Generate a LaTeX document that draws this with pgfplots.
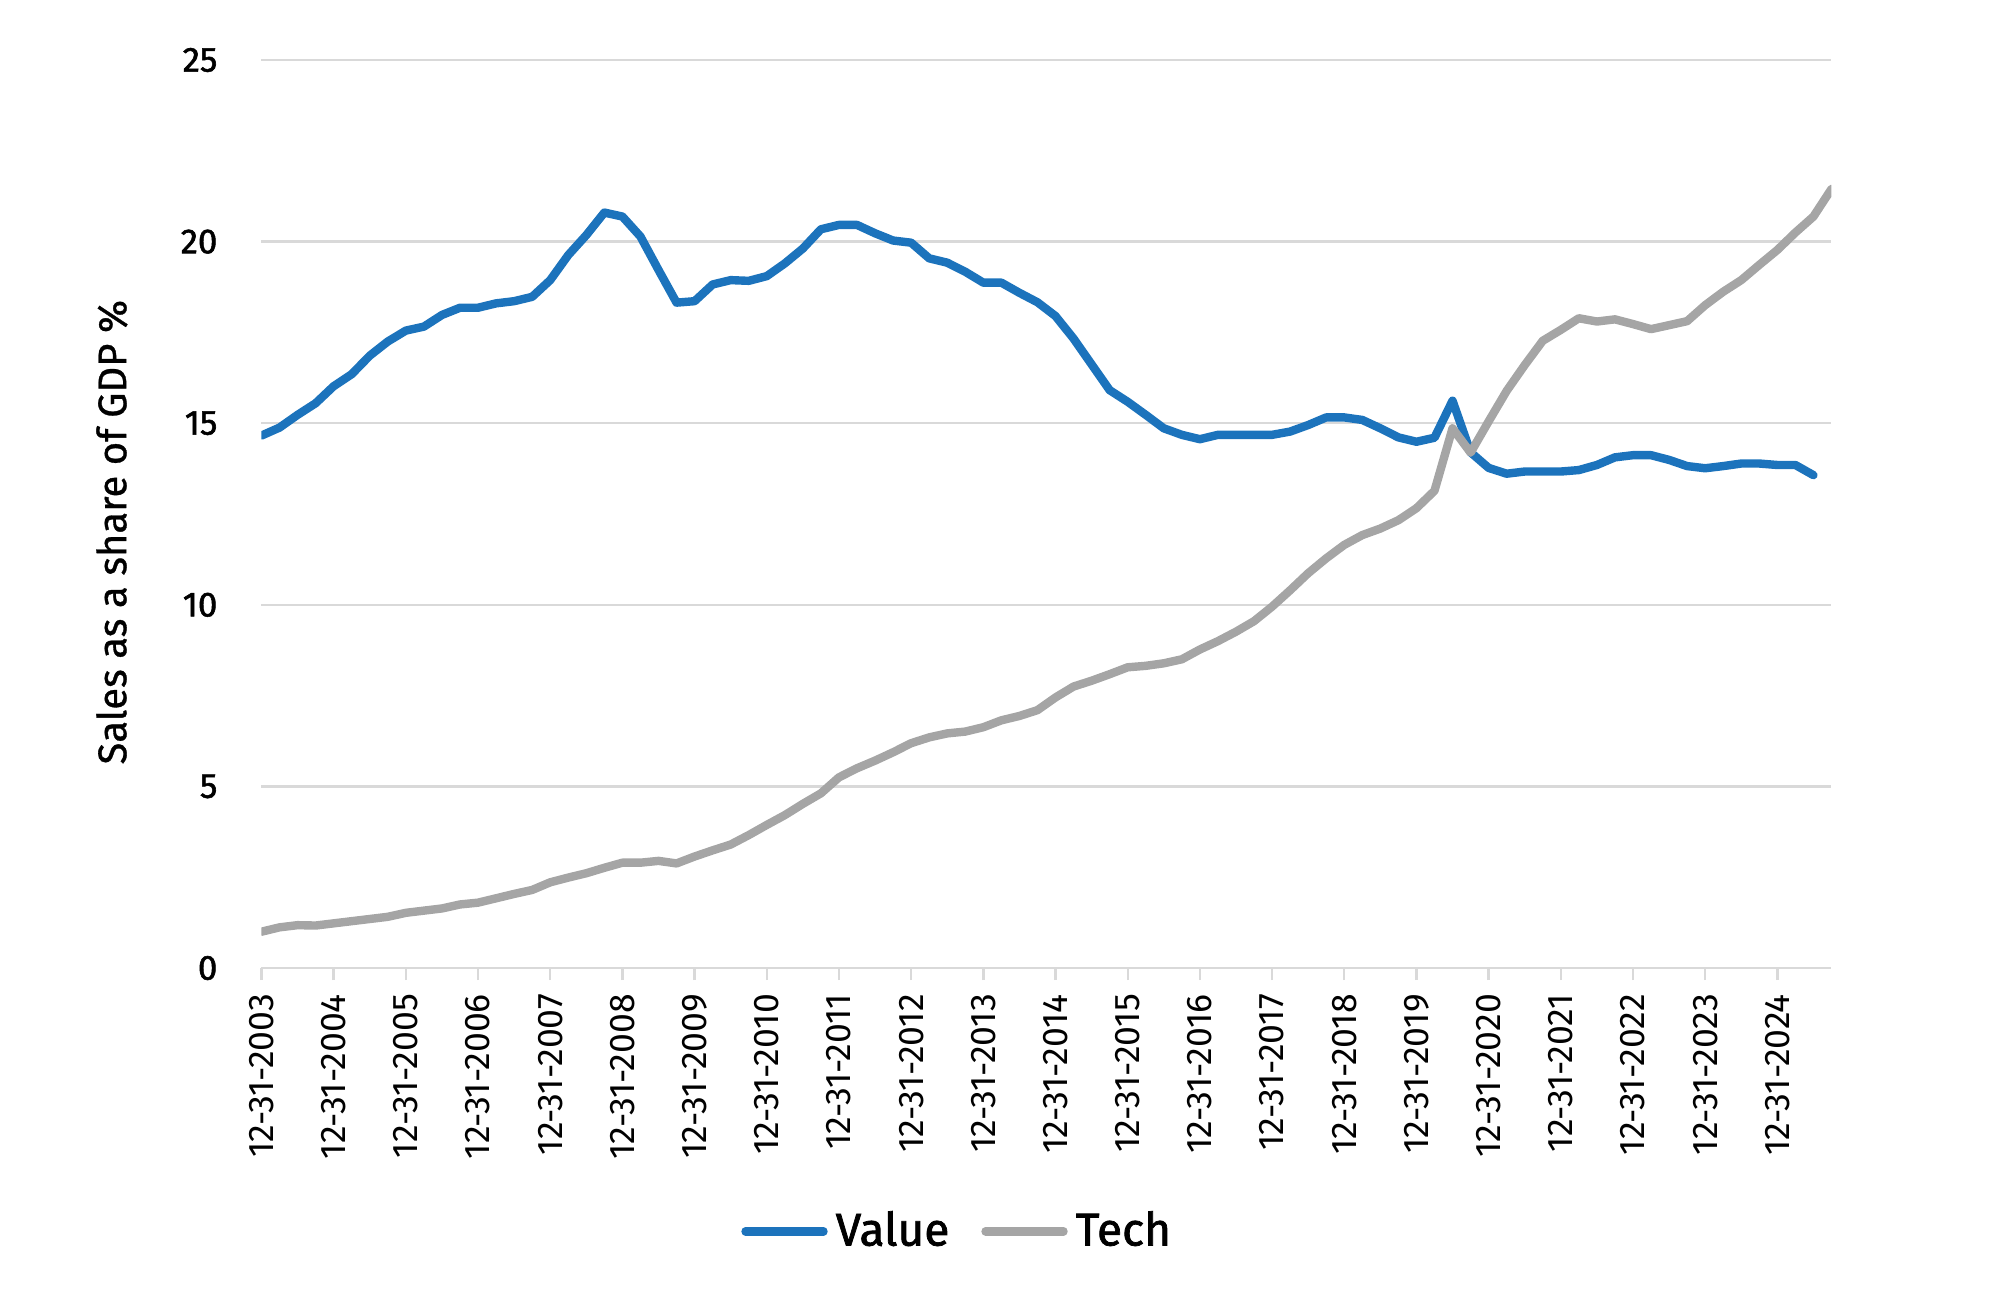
\documentclass[border=0pt]{standalone}
\usepackage{fontspec}
\setmainfont{Fira Sans}
\newfontfamily\medfont[FakeBold=1.6]{Fira Sans}
\newfontfamily\semifont[FakeBold=0.8]{Fira Sans}
\usepackage{pgfplots}
\pgfplotsset{compat=1.18}
\usepackage{pgfplotstable}

\definecolor{valueblue}{RGB}{28,115,188}
\definecolor{techgray}{RGB}{165,165,165}
\definecolor{gridgray}{RGB}{217,217,217}

% Quarterly sales as a share of GDP (%), quarter index 0 = Dec 2003
\pgfplotstableread{
i v
0 14.66
1 14.88
2 15.23
3 15.55
4 16.02
5 16.35
6 16.86
7 17.25
8 17.55
9 17.66
10 17.98
11 18.18
12 18.18
13 18.30
14 18.36
15 18.48
16 18.94
17 19.63
18 20.18
19 20.80
20 20.69
21 20.14
22 19.22
23 18.32
24 18.36
25 18.82
26 18.94
27 18.92
28 19.05
29 19.40
30 19.81
31 20.34
32 20.46
33 20.46
34 20.23
35 20.03
36 19.97
37 19.54
38 19.42
39 19.17
40 18.87
41 18.87
42 18.59
43 18.33
44 17.95
45 17.33
46 16.62
47 15.91
48 15.59
49 15.23
50 14.86
51 14.68
52 14.56
53 14.68
54 14.68
55 14.68
56 14.68
57 14.77
58 14.95
59 15.16
60 15.16
61 15.09
62 14.86
63 14.61
64 14.49
65 14.60
66 15.62
67 14.20
68 13.77
69 13.61
70 13.67
71 13.67
72 13.67
73 13.71
74 13.85
75 14.06
76 14.12
77 14.12
78 13.99
79 13.82
80 13.76
81 13.82
82 13.89
83 13.89
84 13.85
85 13.85
86 13.57
}\valuedata

\pgfplotstableread{
i v
0 1.00
1 1.12
2 1.18
3 1.17
4 1.23
5 1.29
6 1.35
7 1.41
8 1.52
9 1.58
10 1.64
11 1.75
12 1.80
13 1.92
14 2.04
15 2.15
16 2.36
17 2.49
18 2.61
19 2.76
20 2.90
21 2.90
22 2.95
23 2.88
24 3.07
25 3.24
26 3.40
27 3.66
28 3.94
29 4.21
30 4.52
31 4.81
32 5.25
33 5.50
34 5.71
35 5.94
36 6.19
37 6.35
38 6.46
39 6.51
40 6.63
41 6.82
42 6.94
43 7.10
44 7.45
45 7.75
46 7.91
47 8.09
48 8.28
49 8.32
50 8.39
51 8.50
52 8.77
53 9.00
54 9.26
55 9.55
56 9.95
57 10.40
58 10.87
59 11.28
60 11.65
61 11.92
62 12.10
63 12.33
64 12.66
65 13.14
66 14.86
67 14.19
68 15.05
69 15.89
70 16.60
71 17.27
72 17.57
73 17.89
74 17.80
75 17.86
76 17.73
77 17.59
78 17.70
79 17.81
80 18.25
81 18.62
82 18.94
83 19.36
84 19.77
85 20.25
86 20.69
87 21.45
}\techdata

\begin{document}
\begin{tikzpicture}
\useasboundingbox (-65.375pt,-80.5pt) rectangle (434.625pt,242pt);
\begin{axis}[
  at={(0,0)}, anchor=south west,
  scale only axis,
  width=392.5pt, height=227pt,
  xmin=0, xmax=87, ymin=0, ymax=25,
  axis x line=bottom, axis y line=left,
  x axis line style={-, draw=gridgray, line width=0.7pt},
  y axis line style={draw=none},
  ymajorgrids,
  grid style={draw=gridgray, line width=0.6pt},
  ytick={0,5,10,15,20,25},
  ytick style={draw=none},
  xtick={0,4,...,84},
  xticklabels={12-31-2003,12-31-2004,12-31-2005,12-31-2006,12-31-2007,12-31-2008,
    12-31-2009,12-31-2010,12-31-2011,12-31-2012,12-31-2013,12-31-2014,12-31-2015,
    12-31-2016,12-31-2017,12-31-2018,12-31-2019,12-31-2020,12-31-2021,12-31-2022,
    12-31-2023,12-31-2024},
  xtick align=outside,
  major tick length=3pt,
  xtick style={draw=gridgray, line width=0.6pt},
  /pgf/number format/assume math mode=true,
  xticklabel style={rotate=90, anchor=east, font=\fontsize{8.9}{10}\selectfont},
  yticklabel style={font=\medfont\fontsize{8.7}{10}\selectfont, xshift=-6pt},
  ylabel={Sales as a share of GDP \%},
  ylabel style={font=\semifont\fontsize{10}{12}\selectfont,
    at={(axis description cs:-0.0953,0.48)}, anchor=center},
  legend columns=2,
  legend style={at={(axis description cs:0.445,-0.29)}, anchor=center,
    draw=none, fill=none, font=\medfont\fontsize{11.5}{13}\selectfont,
    /tikz/every even column/.append style={column sep=6pt}},
  legend image code/.code={\draw[#1, line cap=round] (0pt,0pt) -- (19.5pt,0pt);},
]
\addplot[valueblue, line width=2.1pt, line join=round, line cap=round] table[x=i, y=v] {\valuedata};
\addlegendentry{Value}
\addplot[techgray, line width=2.1pt, line join=round, line cap=round] table[x=i, y=v] {\techdata};
\addlegendentry{Tech}
\end{axis}
\end{tikzpicture}
\end{document}
